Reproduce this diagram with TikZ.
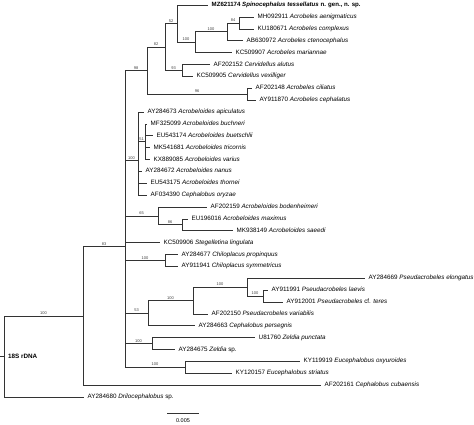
\documentclass[tikz,border=0pt]{standalone}
\usepackage{fontspec}
\setmainfont{Liberation Sans}
\newcommand{\leaffont}{\fontsize{6.3}{7}\selectfont}
\newcommand{\bsfont}{\fontsize{4}{4.5}\selectfont}
\tikzset{
  branch/.style={draw=black!80, line width=0.6pt},
  leaf/.style={anchor=west, inner xsep=3.5pt, inner ysep=0pt, font=\leaffont, text height=4.5pt, text depth=1.2pt},
  bs/.style={font=\bsfont, above, inner sep=0.9pt, text=black!75},
}
\begin{document}
\begin{tikzpicture}[x=1pt,y=-1pt]
\useasboundingbox (0,0) rectangle (474,424);
% internal nodes
\coordinate (stub) at (0,356.4);
\coordinate (R) at (4,356.4);
\coordinate (A) at (83,315.9);
\coordinate (B) at (125,246.7);
\coordinate (n98) at (147,70.5);
\coordinate (n82) at (165,47);
\coordinate (n52) at (177,23.6);
\coordinate (n100a) at (195,42.1);
\coordinate (n100b) at (227,31.7);
\coordinate (n84) at (239,22.85);
\coordinate (ncerv) at (182,70.3);
\coordinate (n96) at (247,94.1);
\coordinate (nacro) at (138,160.6);
\coordinate (nacroin) at (145,141.6);
\coordinate (n65) at (158,215.9);
\coordinate (n86) at (182,224.75);
\coordinate (nchil) at (165,260.3);
\coordinate (n53) at (148,313);
\coordinate (n100c) at (193,300.4);
\coordinate (n100d) at (247,287.1);
\coordinate (n100e) at (263,296);
\coordinate (nzel) at (152,343.5);
\coordinate (neuc) at (185,367.2);
% leaves
\node[leaf, font=\fontsize{6.1}{7}\selectfont] (l0) at (208,5) {\textbf{MZ621174 \textit{Spinocephalus tessellatus} n. gen., n. sp.}};
\node[leaf] (l1) at (254,16.9) {MH092911 \textit{Acrobeles aenigmaticus}};
\node[leaf] (l2) at (254,28.8) {KU180671 \textit{Acrobeles complexus}};
\node[leaf] (l3) at (243,40.6) {AB630972 \textit{Acrobeles ctenocephalus}};
\node[leaf] (l4) at (232,52.5) {KC509907 \textit{Acrobeles mariannae}};
\node[leaf] (l5) at (210,64.4) {AF202152 \textit{Cervidellus alutus}};
\node[leaf] (l6) at (193,76.3) {KC509905 \textit{Cervidellus vexilliger}};
\node[leaf] (l7) at (252,88.2) {AF202148 \textit{Acrobeles ciliatus}};
\node[leaf] (l8) at (256,100) {AY911870 \textit{Acrobeles cephalatus}};
\node[leaf] (l9) at (144,111.9) {AY284673 \textit{Acrobeloides apiculatus}};
\node[leaf] (l10) at (147,123.8) {MF325099 \textit{Acrobeloides buchneri}};
\node[leaf] (l11) at (153,135.7) {EU543174 \textit{Acrobeloides buetschlii}};
\node[leaf] (l12) at (150,147.6) {MK541681 \textit{Acrobeloides tricornis}};
\node[leaf] (l13) at (150,159.4) {KX889085 \textit{Acrobeloides varius}};
\node[leaf] (l14) at (142,171.3) {AY284672 \textit{Acrobeloides nanus}};
\node[leaf] (l15) at (147,183.2) {EU543175 \textit{Acrobeloides thornei}};
\node[leaf] (l16) at (147,195) {AF034390 \textit{Cephalobus oryzae}};
\node[leaf] (l17) at (207,207) {AF202159 \textit{Acrobeloides bodenheimeri}};
\node[leaf] (l18) at (188,218.8) {EU196016 \textit{Acrobeloides maximus}};
\node[leaf] (l19) at (233,230.7) {MK938149 \textit{Acrobeloides saeedi}};
\node[leaf] (l20) at (160,242.5) {KC509906 \textit{Stegelletina lingulata}};
\node[leaf] (l21) at (178,254.4) {AY284677 \textit{Chiloplacus propinquus}};
\node[leaf] (l22) at (178,266.3) {AY911941 \textit{Chiloplacus symmetricus}};
\node[leaf] (l23) at (365,278.2) {AY284669 \textit{Pseudacrobeles elongatus}};
\node[leaf] (l24) at (268,290) {AY911991 \textit{Pseudacrobeles laevis}};
\node[leaf] (l25) at (283,301.9) {AY912001 \textit{Pseudacrobeles} cf. \textit{teres}};
\node[leaf] (l26) at (208,313.8) {AF202150 \textit{Pseudacrobeles variabilis}};
\node[leaf] (l27) at (195,325.7) {AY284663 \textit{Cephalobus persegnis}};
\node[leaf] (l28) at (255,337.5) {U81760 \textit{Zeldia punctata}};
\node[leaf] (l29) at (175,349.4) {AY284675 \textit{Zeldia} sp.};
\node[leaf] (l30) at (300,361.3) {KY119919 \textit{Eucephalobus oxyuroides}};
\node[leaf] (l31) at (232,373.2) {KY120157 \textit{Eucephalobus striatus}};
\node[leaf] (l32) at (321,385) {AF202161 \textit{Cephalobus cubaensis}};
\node[leaf] (l33) at (84,397) {AY284680 \textit{Drilocephalobus} sp.};
\node[anchor=west, font=\leaffont\bfseries, inner sep=0pt] (gene) at (8,356.4) {18S rDNA};
% branches
\draw[branch] (stub) -- (R);
\draw[branch] (R) |- node[bs,pos=0.75]{100} (A);
\draw[branch] (R) |- (l33);
\draw[branch] (A) |- node[bs,pos=0.75]{83} (B);
\draw[branch] (A) |- (l32);
\draw[branch] (B) |- node[bs,pos=0.75]{98} (n98);
\draw[branch] (n98) |- node[bs,pos=0.75]{82} (n82);
\draw[branch] (n82) |- node[bs,pos=0.75]{52} (n52);
\draw[branch] (n52) |- (l0);
\draw[branch] (n52) |- node[bs,pos=0.75]{100} (n100a);
\draw[branch] (n100a) |- node[bs,pos=0.75]{100} (n100b);
\draw[branch] (n100a) |- (l4);
\draw[branch] (n100b) |- node[bs,pos=0.75]{84} (n84);
\draw[branch] (n100b) |- (l3);
\draw[branch] (n84) |- (l1);
\draw[branch] (n84) |- (l2);
\draw[branch] (n82) |- node[bs,pos=0.75]{93} (ncerv);
\draw[branch] (ncerv) |- (l5);
\draw[branch] (ncerv) |- (l6);
\draw[branch] (n98) |- node[bs,pos=0.75]{96} (n96);
\draw[branch] (n96) |- (l7);
\draw[branch] (n96) |- (l8);
\draw[branch] (B) |- node[bs,pos=0.75]{100} (nacro);
\draw[branch] (nacro) |- (l9);
\draw[branch] (nacro) |- node[bs,pos=0.75]{51} (nacroin);
\draw[branch] (nacroin) |- (l10);
\draw[branch] (nacroin) |- (l11);
\draw[branch] (nacroin) |- (l12);
\draw[branch] (nacroin) |- (l13);
\draw[branch] (nacro) |- (l14);
\draw[branch] (nacro) |- (l15);
\draw[branch] (nacro) |- (l16);
\draw[branch] (B) |- node[bs,pos=0.75]{65} (n65);
\draw[branch] (n65) |- (l17);
\draw[branch] (n65) |- node[bs,pos=0.75]{86} (n86);
\draw[branch] (n86) |- (l18);
\draw[branch] (n86) |- (l19);
\draw[branch] (B) |- (l20);
\draw[branch] (B) |- node[bs,pos=0.75]{100} (nchil);
\draw[branch] (nchil) |- (l21);
\draw[branch] (nchil) |- (l22);
\draw[branch] (B) |- node[bs,pos=0.75]{53} (n53);
\draw[branch] (n53) |- node[bs,pos=0.75]{100} (n100c);
\draw[branch] (n100c) |- node[bs,pos=0.75]{100} (n100d);
\draw[branch] (n100d) |- (l23);
\draw[branch] (n100d) |- node[bs,pos=0.75]{100} (n100e);
\draw[branch] (n100e) |- (l24);
\draw[branch] (n100e) |- (l25);
\draw[branch] (n100c) |- (l26);
\draw[branch] (n53) |- (l27);
\draw[branch] (B) |- node[bs,pos=0.75]{100} (nzel);
\draw[branch] (nzel) |- (l28);
\draw[branch] (nzel) |- (l29);
\draw[branch] (B) |- node[bs,pos=0.75]{100} (neuc);
\draw[branch] (neuc) |- (l30);
\draw[branch] (neuc) |- (l31);
% scale bar
\coordinate (sb1) at (167,413);
\coordinate (sb2) at (199,413);
\draw[branch] (sb1) -- (sb2);
\node[font=\fontsize{5.5}{6}\selectfont, inner sep=0pt] (sblab) at (183,420.5) {0.005};
\end{tikzpicture}
\end{document}
